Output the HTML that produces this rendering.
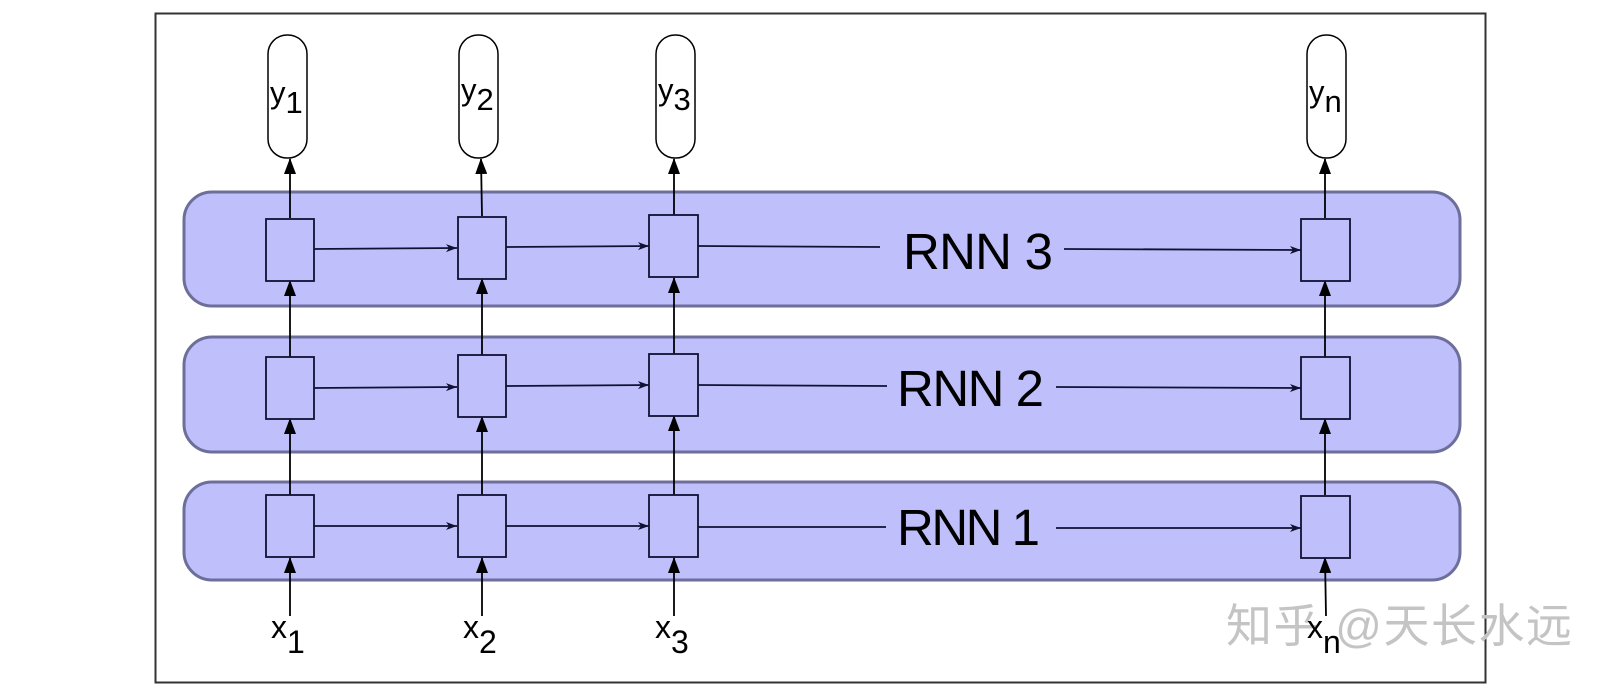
<!DOCTYPE html>
<html><head><meta charset="utf-8"><style>
html,body{margin:0;padding:0;background:#fff;width:1614px;height:688px;overflow:hidden}
text{font-family:"Liberation Sans",Arial,sans-serif;fill:#000}
</style></head><body>
<svg width="1614" height="688" viewBox="0 0 1614 688" xmlns="http://www.w3.org/2000/svg">
<defs>
<marker id="big" markerWidth="16" markerHeight="12" refX="15" refY="6" orient="auto" markerUnits="userSpaceOnUse"><path d="M0,0 L16,6 L0,12 z" fill="#000"/></marker>
<marker id="sm" markerWidth="12" markerHeight="10" refX="11" refY="5" orient="auto" markerUnits="userSpaceOnUse"><path d="M0,1 L11,5 L0,9 L3,5 z" fill="#111133"/></marker>
</defs>
<rect x="155.5" y="13.5" width="1330" height="669" fill="#fff" stroke="#333" stroke-width="2"/>
<g fill="#bfbffb" stroke="#6e6e9a" stroke-width="3">
<rect x="184" y="192" width="1276" height="114" rx="28"/>
<rect x="184" y="337" width="1276" height="115" rx="28"/>
<rect x="184" y="482" width="1276" height="98" rx="28"/>
</g>
<g fill="#fff" stroke="#000" stroke-width="1.5">
<rect x="268" y="35" width="39" height="123" rx="19"/>
<rect x="459" y="35" width="39" height="123" rx="19"/>
<rect x="656" y="35" width="39" height="123" rx="19"/>
<rect x="1307" y="35" width="39" height="123" rx="19"/>
</g>
<g font-size="31">
<text x="270" y="103">y<tspan dy="10">1</tspan></text>
<text x="461" y="100">y<tspan dy="10">2</tspan></text>
<text x="658" y="100">y<tspan dy="10">3</tspan></text>
<text x="1309" y="102">y<tspan dy="10">n</tspan></text>
</g>
<g stroke="#000" stroke-width="1.8" marker-end="url(#big)">
<line x1="290" y1="218" x2="290" y2="159"/>
<line x1="482" y1="216" x2="481" y2="159"/>
<line x1="674" y1="215" x2="674" y2="159"/>
<line x1="1325" y1="218" x2="1325" y2="159"/>
<line x1="290" y1="357" x2="290" y2="281"/>
<line x1="482" y1="355" x2="482" y2="279"/>
<line x1="674" y1="354" x2="674" y2="278"/>
<line x1="1325" y1="357" x2="1325" y2="281"/>
<line x1="290" y1="495" x2="290" y2="419"/>
<line x1="482" y1="495" x2="482" y2="417"/>
<line x1="674" y1="495" x2="674" y2="416"/>
<line x1="1325" y1="495" x2="1325" y2="419"/>
<line x1="290" y1="616" x2="290" y2="558"/>
<line x1="482" y1="616" x2="482" y2="558"/>
<line x1="674" y1="616" x2="674" y2="558"/>
<line x1="1326" y1="616" x2="1325" y2="558"/>
</g>
<g stroke="#111133" stroke-width="1.8" fill="none">
<line x1="314" y1="249" x2="457" y2="248" marker-end="url(#sm)"/>
<line x1="506" y1="247" x2="649" y2="246" marker-end="url(#sm)"/>
<line x1="698" y1="246" x2="880" y2="247"/>
<line x1="1064" y1="249" x2="1301" y2="250" marker-end="url(#sm)"/>
<line x1="314" y1="388" x2="457" y2="387" marker-end="url(#sm)"/>
<line x1="506" y1="386" x2="649" y2="385" marker-end="url(#sm)"/>
<line x1="698" y1="385" x2="887" y2="386"/>
<line x1="1056" y1="387" x2="1301" y2="388" marker-end="url(#sm)"/>
<line x1="314" y1="526" x2="457" y2="526" marker-end="url(#sm)"/>
<line x1="506" y1="526" x2="649" y2="526" marker-end="url(#sm)"/>
<line x1="698" y1="527" x2="886" y2="527"/>
<line x1="1056" y1="528" x2="1301" y2="528" marker-end="url(#sm)"/>
</g>
<g fill="#bfbffb" stroke="#111133" stroke-width="1.8">
<rect x="266" y="219" width="48" height="62"/>
<rect x="458" y="217" width="48" height="62"/>
<rect x="649" y="215" width="49" height="62"/>
<rect x="1301" y="219" width="49" height="62"/>
<rect x="266" y="357" width="48" height="62"/>
<rect x="458" y="355" width="48" height="62"/>
<rect x="649" y="354" width="49" height="62"/>
<rect x="1301" y="357" width="49" height="62"/>
<rect x="266" y="495" width="48" height="62"/>
<rect x="458" y="495" width="48" height="62"/>
<rect x="649" y="495" width="49" height="62"/>
<rect x="1301" y="496" width="49" height="62"/>
</g>
<g font-size="51">
<text x="903" y="269" textLength="150">RNN 3</text>
<text x="897" y="406" textLength="147">RNN 2</text>
<text x="897" y="545" textLength="143">RNN 1</text>
</g>
<text x="1226" y="642" font-size="46" style="fill:#c4c4c4;font-family:'Liberation Sans','Noto Sans CJK SC',sans-serif" textLength="346">知乎 @天长水远</text>
<g font-size="32">
<text x="271" y="638">x<tspan dy="15">1</tspan></text>
<text x="463" y="638">x<tspan dy="15">2</tspan></text>
<text x="655" y="638">x<tspan dy="15">3</tspan></text>
<text x="1307" y="638">x<tspan dy="15">n</tspan></text>
</g>
</svg>
</body></html>
